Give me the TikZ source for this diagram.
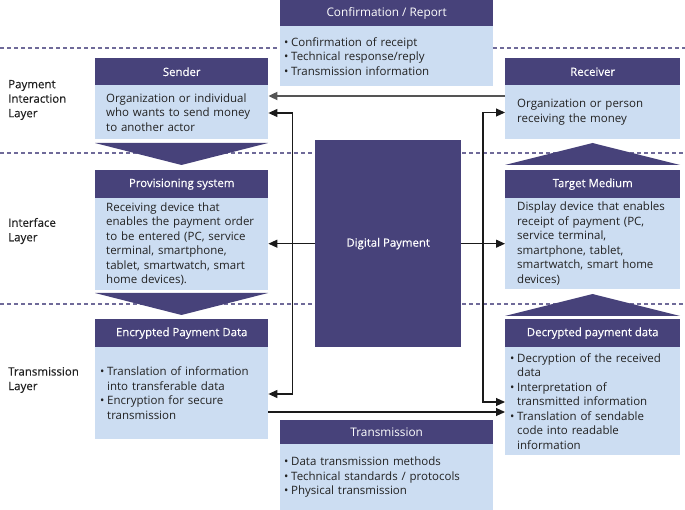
\documentclass[tikz,border=0pt]{standalone}
\usepackage{fontspec}
\setmainfont{Open Sans}
\newfontfamily\semib[FakeBold=0.35]{Open Sans}
\usetikzlibrary{arrows.meta,calc}
\definecolor{hdrc}{HTML}{47427A}
\definecolor{bodyc}{HTML}{CCDDF2}
\definecolor{dashc}{HTML}{6F6A99}
\definecolor{txtc}{HTML}{222222}
\definecolor{lnc}{HTML}{1A1A1A}
\definecolor{glnc}{HTML}{555555}
\newcommand\bitem[1]{\makebox[7pt][l]{\textbullet}#1}
\newcommand\bcont[1]{\hspace*{7pt}#1}
\begin{document}
\begin{tikzpicture}[x=1pt,y=-1pt,
  hdr/.style={fill=hdrc, text=white, inner sep=0pt, anchor=north west,
    font=\semib\fontsize{11.4}{14}\selectfont},
  hdrr/.style={hdr, font=\fontsize{11.8}{14}\selectfont},
  bodyb/.style={fill=bodyc, text=txtc, anchor=north west, inner ysep=0pt,
    align=left, font=\fontsize{11.5}{14.5}\selectfont},
  lbl/.style={anchor=west, inner sep=0pt, align=left, text=txtc,
    font=\semib\fontsize{11.5}{14.5}\selectfont},
  dsh/.style={dashc, line width=1.1pt, dash pattern=on 4pt off 3pt},
  barr/.style={lnc, line width=1.1pt, -{Triangle[length=9pt,width=8pt]}},
  bbarr/.style={lnc, line width=1.1pt, {Triangle[length=9pt,width=8pt]}-{Triangle[length=9pt,width=8pt]}},
  garr/.style={glnc, line width=1.8pt, -{Triangle[length=9pt,width=8pt]}},
  chev/.style={fill=hdrc, draw=none}
]
\useasboundingbox (0,0) rectangle (685,510);
\fill[white] (0,0) rectangle (685,510);

% dashed layer separators
\draw[dsh] (0,48) -- (280,48);
\draw[dsh] (493,48) -- (685,48);
\draw[dsh] (0,153) -- (685,153);
\draw[dsh] (0,304) -- (685,304);

% layer labels
\node[lbl] (l1) at (8,100) {Payment\\Interaction\\Layer};
\node[lbl] (l2) at (8,231) {Interface\\Layer};
\node[lbl] (l3) at (8,380) {Transmission\\Layer};

% chevrons
\fill[chev] (95,143) -- (268,143) -- (181.5,165) -- cycle;
\fill[chev] (95,293) -- (268,293) -- (181.5,315) -- cycle;
\fill[chev] (505,165) -- (680,165) -- (592.5,143) -- cycle;
\fill[chev] (505,316) -- (680,316) -- (592.5,294) -- cycle;

% Confirmation / Report
\node[hdrr, minimum width=213pt, minimum height=26pt] (confh) at (280,0) {Confirmation / Report};
\node[bodyb, minimum width=213pt, minimum height=60pt, inner xsep=4pt, text width=205pt] (confb) at (280,26)
  {\bitem{Confirmation of receipt}\\\bitem{Technical response/reply}\\\bitem{Transmission information}};

% Sender
\node[hdr, minimum width=173pt, minimum height=27pt] (sendh) at (95,58) {Sender};
\node[bodyb, minimum width=173pt, minimum height=54pt, inner xsep=11pt, text width=151pt] (sendb) at (95,85)
  {Organization or individual\\who wants to send money\\to another actor};

% Provisioning system
\node[hdr, minimum width=173pt, minimum height=28pt] (provh) at (95,170) {Provisioning system};
\node[bodyb, minimum width=173pt, minimum height=92pt, inner xsep=11pt, text width=151pt] (provb) at (95,198)
  {Receiving device that\\enables the payment order\\to be entered (PC, service\\terminal, smartphone,\\tablet, smartwatch, smart\\home devices).};

% Encrypted Payment Data
\node[hdr, minimum width=173pt, minimum height=28pt] (ench) at (95,319) {Encrypted Payment Data};
\node[bodyb, minimum width=173pt, minimum height=92pt, inner xsep=5pt, text width=163pt] (encb) at (95,347)
  {\bitem{Translation of information}\\\bcont{into transferable data}\\\bitem{Encryption for secure}\\\bcont{transmission}};

% Digital Payment
\node[hdr, minimum width=146pt, minimum height=207pt] (dp) at (315,140) {Digital Payment};

% Receiver
\node[hdr, minimum width=175pt, minimum height=27pt] (rcvh) at (505,58) {Receiver};
\node[bodyb, minimum width=175pt, minimum height=54pt, inner xsep=12pt, text width=151pt] (rcvb) at (505,85)
  {Organization or person\\receiving the money};

% Target Medium
\node[hdr, minimum width=175pt, minimum height=28pt] (tgth) at (505,170) {Target Medium};
\node[bodyb, minimum width=175pt, minimum height=91pt, inner xsep=12pt, text width=151pt] (tgtb) at (505,198)
  {Display device that enables\\receipt of payment (PC,\\service terminal,\\smartphone, tablet,\\smartwatch, smart home\\devices)};

% Decrypted payment data
\node[hdr, minimum width=175pt, minimum height=28pt] (dech) at (505,319) {Decrypted payment data};
\node[bodyb, minimum width=175pt, minimum height=108pt, inner xsep=5pt, text width=165pt] (decb) at (505,347)
  {\bitem{Decryption of the received}\\\bcont{data}\\\bitem{Interpretation of}\\\bcont{transmitted information}\\\bitem{Translation of sendable}\\\bcont{code into readable}\\\bcont{information}};

% Transmission
\node[hdrr, minimum width=213pt, minimum height=24pt] (trh) at (280,420) {Transmission};
\node[bodyb, minimum width=213pt, minimum height=66pt, inner xsep=4pt, text width=205pt] (trb) at (280,444)
  {\bitem{Data transmission methods}\\\bitem{Technical standards / protocols}\\\bitem{Physical transmission}};

% connectors
\draw[garr] ([yshift=-11pt]rcvb.north west) -- ([yshift=-11pt]sendb.north east);
\draw[bbarr] ([yshift=-28pt]sendb.north east) -- ++(24.5,0) |- ([yshift=-47pt]encb.north east);
\draw[bbarr] ([yshift=-27.5pt]rcvb.north west) -- ++(-22,0) |- ([yshift=-55pt]decb.north west);
\draw[barr] (dp.west) -- (dp.west -| provb.east);
\draw[barr] (dp.east) -- (dp.east -| tgtb.west);
\draw[barr] ([yshift=-65pt]encb.north east) -- ([yshift=-65pt]encb.north east -| decb.west);
\end{tikzpicture}
\end{document}
